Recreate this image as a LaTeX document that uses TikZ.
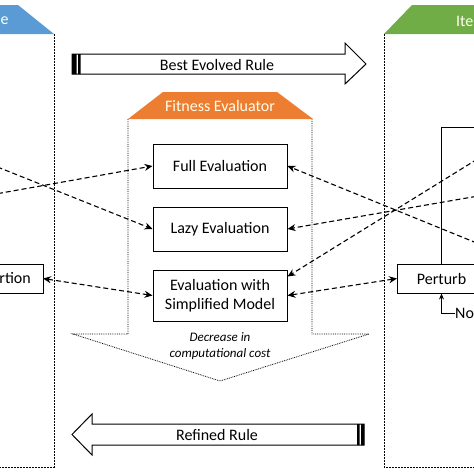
\documentclass[tikz,border=0pt]{standalone}
\usepackage{fontspec}
\setmainfont{Carlito}
\usetikzlibrary{arrows.meta}
\usetikzlibrary{calc}
\definecolor{hdblue}{RGB}{91,155,213}
\definecolor{hdorange}{RGB}{237,125,49}
\definecolor{hdgreen}{RGB}{112,173,71}

\begin{document}
\begin{tikzpicture}[x=1pt,y=-1pt,
    every node/.style={font=\fontsize{16}{19}\selectfont},
    evbox/.style={draw,line width=1pt,minimum width=134pt,align=center},
    link/.style={line width=1.1pt,dash pattern=on 5pt off 3pt},
    tip/.style={-{Stealth[length=8pt,width=7pt]}},
    tips/.style={{Stealth[length=8pt,width=7pt]}-{Stealth[length=8pt,width=7pt]}},
    panel/.style={line width=.8pt,dash pattern=on 2pt off 1pt},
    hdtext/.style={text=white!92!yellow}]
  \useasboundingbox (0,0) rectangle (474,474);

  % side panels
  \fill[hdblue] (-5,5) -- (18,5) -- (54,34) -- (-5,34) -- cycle;
  \draw[panel] (54,34) -- (54,467) -- (-5,467);
  \node[hdtext,anchor=west,inner sep=0pt] (lhd) at (0.5,21) {e};
  \fill[hdgreen] (384,34) -- (412,5) -- (480,5) -- (480,34) -- cycle;
  \draw[panel] (384,34) -- (384,467) -- (480,467);
  \node[hdtext,anchor=west,inner sep=0pt] (rhd) at (456,21) {Ite};

  % fitness evaluator
  \fill[hdorange] (128,119) -- (163,92) -- (277,92) -- (313,119) -- cycle;
  \node[hdtext] (fe) at (220,106) {Fitness Evaluator};
  \draw[line width=.8pt,densely dotted] (128,119) -- (128,334) -- (73,334)
    -- (220,381) -- (369,334) -- (312,334) -- (312,119);
  \node[align=center,font=\fontsize{13}{16}\selectfont\itshape] (cost) at (220,346)
    {Decrease in\\computational cost};

  \node[evbox,minimum height=44pt] (full) at (220,166) {Full Evaluation};
  \node[evbox,minimum height=44pt] (lazy) at (220,229) {Lazy Evaluation};
  \node[evbox,minimum height=51pt] (simp) at (220,295.5)
    {Evaluation with\\Simplified Model};

  % best evolved rule / refined rule
  \draw[line width=1pt] (72,54) -- (345,54) -- (345,43) -- (366,64)
    -- (345,84) -- (345,74) -- (72,74) -- cycle;
  \fill (72,54) rectangle (76.5,74) (78,54) rectangle (80.5,74);
  \node (ber) at (217,65) {Best Evolved Rule};
  \draw[line width=1pt] (364,424) -- (92,424) -- (92,414) -- (72,434.5)
    -- (92,455) -- (92,445) -- (364,445) -- cycle;
  \fill (357,424) rectangle (359.5,445) (361,424) rectangle (364,445);
  \node (rr) at (217,435) {Refined Rule};

  % left operator
  \draw[line width=1pt] (-5,264) rectangle (43,293);
  \node[anchor=east,inner sep=0pt] (mut) at (31,278.5) {rtion};
  \coordinate (mute) at (43,278.5);

  % right operator
  \node[draw,line width=1pt,anchor=west,minimum height=29pt,text width=50pt,
    align=center,inner xsep=19pt,inner ysep=0pt] (pert) at (397,278.5) {Perturb};
  \coordinate (loop) at (480,127);
  \draw[line width=1pt] (pert.north) |- (loop);
  \node[anchor=west,inner sep=0pt] (noise) at (455,313) {No};
  \draw[line width=1pt,-{Stealth[length=6pt,width=5pt]}] (noise.west) -| (pert.south);

  % links
  \coordinate (la) at (-10,164);
  \coordinate (lb) at (-10,195);
  \coordinate (ra) at (484,155);
  \coordinate (rb) at (484,195);
  \coordinate (rc) at (484,246);
  \coordinate (simpup) at ($(simp.north east)+(0,7)$);
  \draw[link,tip] (la) -- (lazy.west);
  \draw[link,tip] (lb) -- (full.west);
  \draw[link,tips] (mute) -- (simp.west);
  \draw[link,tip] (ra) -- (simpup);
  \draw[link,tip] (rb) -- (lazy.east);
  \draw[link,tip] (rc) -- (full.east);
  \draw[link,tips] (simp.east) -- (pert.west);
\end{tikzpicture}
\end{document}
